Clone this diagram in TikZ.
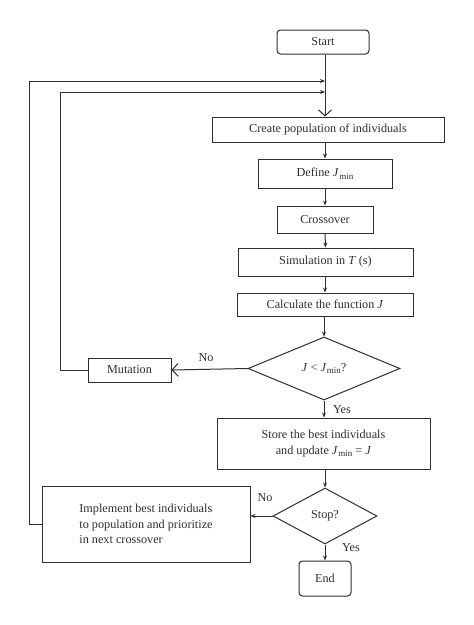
\documentclass[tikz,border=0pt]{standalone}
\usepackage{fontspec}
\setmainfont{Liberation Serif}
\usetikzlibrary{arrows.meta,shapes.geometric}
\definecolor{ink}{HTML}{2E2E2E}
\newcommand{\Jmin}{\textit{J}\kern0.5pt\raisebox{-0.45ex}{\small min}}
\tikzset{
  base/.style={draw=ink, line width=1pt, text=ink, font=\fontsize{12.2}{15.5}\selectfont, inner sep=2pt},
  box/.style={base, rectangle},
  term/.style={base, rectangle, rounded corners=3.5pt},
  dec/.style={base, diamond, inner sep=0pt},
  arr/.style={draw=ink, line width=1pt, -{Stealth[length=5pt,width=4pt]}},
  bigarr/.style={draw=ink, line width=1pt, -{Straight Barb[length=6pt,width=13pt,line width=1pt]}},
  lab/.style={text=ink, font=\fontsize{12.2}{15}\selectfont}
}
\begin{document}
\begin{tikzpicture}[x=1pt,y=-1pt]
\useasboundingbox (0,0) rectangle (474,625);
\node[term, minimum width=92pt, minimum height=24pt] (start) at (323,42) {Start};
\node[box, minimum width=232pt, minimum height=25pt] (create) at (328,129.5) {Create population of individuals};
\node[box, minimum width=134pt, minimum height=29pt] (define) at (325,173.5) {Define \Jmin};
\node[box, minimum width=96pt, minimum height=27pt] (cross) at (325,219.5) {Crossover};
\node[box, minimum width=175pt, minimum height=28pt] (sim) at (325.5,262) {Simulation in \textit{T} (s)};
\node[box, minimum width=176pt, minimum height=23pt] (calc) at (325,304.5) {Calculate the function \textit{J}};
\node[dec, minimum width=152pt, minimum height=63pt] (dec1) at (324,368.5) {\textit{J} < \Jmin?};
\node[box, minimum width=83pt, minimum height=24pt] (mut) at (129.5,370) {Mutation};
\node[box, minimum width=213pt, minimum height=51pt, align=center] (store) at (323.5,443.5) {Store the best individuals\\and update \Jmin{} = \textit{J}};
\node[dec, minimum width=104pt, minimum height=56pt] (stop) at (325,516) {Stop?};
\node[box, minimum width=208pt, minimum height=76pt, align=left] (impl) at (146,524) {Implement best individuals\\to population and prioritize\\in next crossover};
\node[term, minimum width=52pt, minimum height=35pt] (end) at (325,578.5) {End};

\coordinate (j1) at (325,81);
\coordinate (j2) at (325,92);

\draw[draw=ink, line width=1pt] (start.south -| j1) -- (j2);
\draw[bigarr] (j2) -- (j2 |- create.north);
\draw[arr] (create.south -| define) -- (define.north);
\draw[arr] (define.south) -- (cross.north);
\draw[arr] (cross.south) -- (sim.south |- sim.north);
\draw[arr] (sim.south -| calc) -- (calc.north);
\draw[arr] (calc.south -| dec1) -- (dec1.north);
\draw[bigarr] (dec1.west) -- (mut.east);
\draw[arr] (dec1.south) -- (store.north -| dec1);
\draw[arr] (store.south -| stop) -- (stop.north);
\draw[arr] (stop.west) -- (impl.east |- stop.west);
\draw[arr] (stop.south) -- (end.north);
\draw[arr] (mut.west) -- ++(-27,0) |- (j2);
\draw[arr] (impl.west) -- ++(-12,0) |- (j1);

\node[lab] (no1) at (206,358) {No};
\node[lab] (yes1) at (342,410) {Yes};
\node[lab] (no2) at (265,498) {No};
\node[lab] (yes2) at (351,548) {Yes};
\end{tikzpicture}
\end{document}
